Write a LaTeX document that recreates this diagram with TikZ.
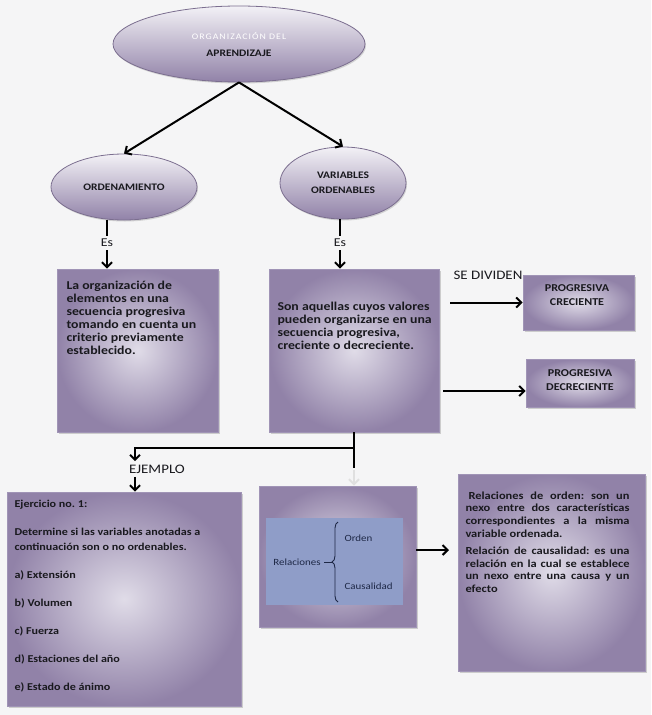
\documentclass[tikz,border=0pt]{standalone}
\usepackage{fontspec}
\setmainfont{Carlito}[FakeStretch=1.15]
\usepackage{xcolor}
\usetikzlibrary{arrows.meta,shapes.geometric,shadows,decorations.pathreplacing}

\definecolor{fondo}{RGB}{245,245,246}
\definecolor{lila}{RGB}{224,220,232}
\definecolor{morado}{RGB}{145,130,168}
\definecolor{borde}{RGB}{160,148,182}
\definecolor{azul}{RGB}{143,157,200}
\definecolor{marino}{RGB}{30,40,70}
\definecolor{tinta}{RGB}{25,25,30}
\frenchspacing

\begin{document}
\begin{tikzpicture}[x=1pt, y=-1pt,
    caja/.style={rectangle, draw=borde, line width=0.8pt, inner color=lila, outer color=morado,
        drop shadow={shadow xshift=1.5pt, shadow yshift=-1.5pt, opacity=0.35}},
    elipse/.style={ellipse, draw=morado!85!black, line width=0.8pt, top color=lila!40, bottom color=morado,
        drop shadow={shadow xshift=1pt, shadow yshift=-1.5pt, opacity=0.3}, text=tinta},
    flecha/.style={line width=2pt, -{Straight Barb[length=5pt, width=10pt]}},
    texto/.style={anchor=north west, align=left, text=tinta, font=\bfseries\fontsize{12}{13}\selectfont},
    rotulo/.style={text=tinta, font=\fontsize{13}{13}\selectfont}]

    % Background
    \useasboundingbox (0,0) rectangle (651,715);
    \fill[fondo] (0,0) rectangle (651,715);

    % Draw the ellipses
    \node[elipse, minimum width=252pt, minimum height=76pt, align=center] (org) at (239,44)
        {{\color{white}\fontsize{8.5}{10}\selectfont\addfontfeature{LetterSpace=12}ORGANIZACIÓN DEL}\\[5pt]
         {\bfseries\fontsize{10}{10}\selectfont APRENDIZAJE}};
    \node[elipse, minimum width=146pt, minimum height=66pt, font=\bfseries\fontsize{10}{10}\selectfont]
        (ordena) at (124,187) {ORDENAMIENTO};
    \node[elipse, minimum width=126pt, minimum height=72pt, align=center,
        font=\bfseries\fontsize{10}{15}\selectfont] (vari) at (343,183) {VARIABLES\\ORDENABLES};

    \draw[flecha] (org.south) -- (ordena.north);
    \draw[flecha] (org.south) -- (vari.north);

    % Draw the boxes
    \node[caja, minimum width=161pt, minimum height=163pt] (def) at (137.5,350.5) {};
    \node[caja, minimum width=170pt, minimum height=163pt] (varbox) at (354,350.5) {};
    \node[caja, minimum width=111pt, minimum height=55pt] (crec) at (578.5,302.5) {};
    \node[caja, minimum width=108pt, minimum height=48pt] (decr) at (580,383) {};
    \node[caja, minimum width=234pt, minimum height=214pt] (ejer) at (124,599) {};
    \node[caja, minimum width=157pt, minimum height=141pt] (rel) at (337.5,556.5) {};
    \node[caja, minimum width=187pt, minimum height=197pt] (defrel) at (551.5,572.5) {};
    \node[rectangle, fill=azul, minimum width=137pt, minimum height=87pt] (relin) at (334.5,561.5) {};

    % Add the "Es" links
    \node[rotulo, font=\fontsize{12}{12}\selectfont] (es1) at (107,243) {Es};
    \node[rotulo, font=\fontsize{12}{12}\selectfont] (es2) at (340,243) {Es};
    \foreach \e/\a/\b in {es1/ordena/def, es2/vari/varbox} {
        \draw[line width=2pt] (\e |- \a.south) -- (\e.north);
        \draw[flecha] (\e.south) -- (\e |- \b.north);
    }

    % Texts of the boxes
    \node[texto] (deftxt) at (63,278) {La organización  de\\elementos en una\\secuencia progresiva\\tomando en cuenta un\\criterio previamente\\establecido.};
    \node[texto] (vartxt) at (274,299) {Son aquellas cuyos valores\\pueden organizarse en una\\secuencia progresiva,\\creciente o decreciente.};
    \node[text=tinta, align=center, font=\bfseries\fontsize{10.5}{14}\selectfont] (crectxt) at (577,295) {PROGRESIVA\\CRECIENTE};
    \node[text=tinta, align=center, font=\bfseries\fontsize{10.5}{14}\selectfont] (decrtxt) at (580,380) {PROGRESIVA\\DECRECIENTE};
    \node[texto, font=\bfseries\fontsize{10.5}{15}\selectfont] (ejertxt) at (11,497)
        {Ejercicio no. 1:\\[13pt]Determine si las variables anotadas  a\\continuación  son o no ordenables.\\[13pt]
         a) Extensión\\[13pt]b) Volumen\\[13pt]c) Fuerza\\[13pt]d) Estaciones  del año\\[13pt]e) Estado de ánimo};
    \node[texto, align=justify, text width=164pt, font=\bfseries\fontsize{10.8}{12.8}\selectfont] (defreltxt) at (462,488)
        {\hspace*{3pt}Relaciones de orden: son un\linebreak nexo entre dos características\linebreak
         correspondientes a la misma\linebreak variable  ordenada.\\[4pt]
         Relación de causalidad: es una\linebreak relación en la cual se establece\linebreak
         un nexo entre una causa y un\linebreak efecto};

    % Division of the variables
    \node[rotulo, anchor=west] (divid) at (450,275) {SE DIVIDEN};
    \coordinate (dflecha) at ([yshift=-8pt]decr.west);
    \draw[flecha] ([xshift=11pt]varbox.east |- crec.west) -- (crec.west);
    \draw[flecha] ([xshift=4pt]varbox.east |- dflecha) -- (dflecha);

    % Relations inside the box
    \node[text=marino, font=\fontsize{9.5}{9.5}\selectfont] (relac) at (297,562) {Relaciones};
    \node[text=marino, font=\fontsize{9.5}{9.5}\selectfont, anchor=west] (orden) at (341,538) {Orden};
    \node[text=marino, font=\fontsize{9.5}{9.5}\selectfont, anchor=west] (causa) at (341,586) {Causalidad};
    \coordinate (llave1) at (338,602);
    \coordinate (llave2) at (338,522);
    \coordinate (punta) at (332,562);
    \draw[marino, line width=0.9pt] (relac.east) -- (punta);
    \draw[marino, line width=0.9pt, decorate, decoration={brace, amplitude=6pt}] (llave1) -- (llave2);

    % Lower connectors
    \node[rotulo] (ejemplo) at (157,469) {EJEMPLO};
    \coordinate (junta) at (135,448);
    \coordinate (relflecha) at (449,550);
    \draw[flecha] (varbox.south) |- (junta) -- (junta |- ejemplo.north);
    \draw[flecha] (junta |- ejemplo.south) -- (junta |- ejer.north);
    \draw[line width=2pt] (varbox.south) -- ([yshift=18pt]varbox.south |- rel.north);
    \draw[flecha, black!12] ([yshift=16pt]varbox.south |- rel.north) -- (varbox.south |- rel.north);
    \draw[flecha] (rel.east |- relflecha) -- (relflecha);
\end{tikzpicture}
\end{document}
